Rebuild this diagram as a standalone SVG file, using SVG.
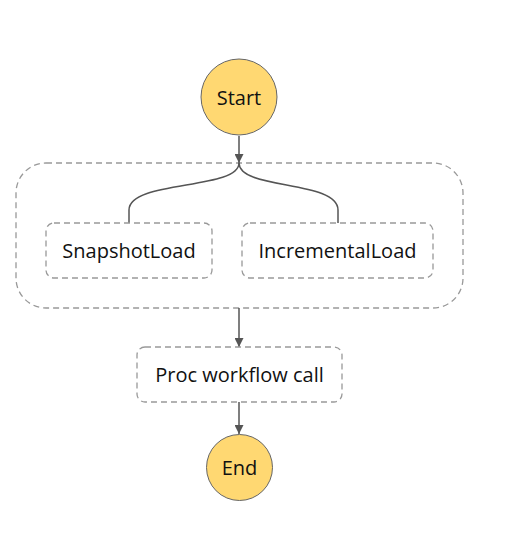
<svg xmlns="http://www.w3.org/2000/svg" width="521" height="548" viewBox="0 0 521 548">
<style>
.term{fill:#ffd872;stroke:#666;stroke-width:1}
.box{fill:#fff;stroke:#999;stroke-width:1.3;stroke-dasharray:6,4}
.lbl{font-family:"Open Sans","Noto Sans",sans-serif;font-size:20px;fill:#111;text-anchor:middle;dominant-baseline:central}
.edge{fill:none;stroke:#555;stroke-width:1.5}
</style>
<defs>
<marker id="ah" viewBox="0 0 10 10" refX="10" refY="5" markerWidth="9" markerHeight="9" markerUnits="userSpaceOnUse" orient="auto">
<path d="M0,0 L10,5 L0,10 z" fill="#555"/>
</marker>
</defs>
<rect width="521" height="548" fill="#fff"/>
<g id="parallel">
<rect class="box" x="16" y="163" width="447" height="145" rx="30" ry="30"/>
</g>
<g id="connectors">
<line class="edge" x1="239" y1="136" x2="239" y2="163" marker-end="url(#ah)"/>
<path class="edge" d="M239,163 C239,190 129,180 129,210 L129,223"/>
<path class="edge" d="M239,163 C239,190 338,180 338,210 L338,223"/>
<line class="edge" x1="239" y1="308" x2="239" y2="347" marker-end="url(#ah)"/>
<line class="edge" x1="239" y1="401" x2="239" y2="434" marker-end="url(#ah)"/>
</g>
<g id="start">
<circle class="term" cx="239" cy="97" r="38"/>
<text class="lbl" x="239" y="97">Start</text>
</g>
<g id="snapshot">
<rect class="box" x="46" y="223" width="166" height="55" rx="8" ry="8"/>
<text class="lbl" x="129" y="250">SnapshotLoad</text>
</g>
<g id="incremental">
<rect class="box" x="242" y="223" width="191" height="55" rx="8" ry="8"/>
<text class="lbl" x="337.5" y="250">IncrementalLoad</text>
</g>
<g id="proc">
<rect class="box" x="137" y="347" width="205" height="55" rx="8" ry="8"/>
<text class="lbl" x="239.5" y="374">Proc workflow call</text>
</g>
<g id="end">
<circle class="term" cx="239.5" cy="467.5" r="33"/>
<text class="lbl" x="239.5" y="467.5">End</text>
</g>
</svg>
